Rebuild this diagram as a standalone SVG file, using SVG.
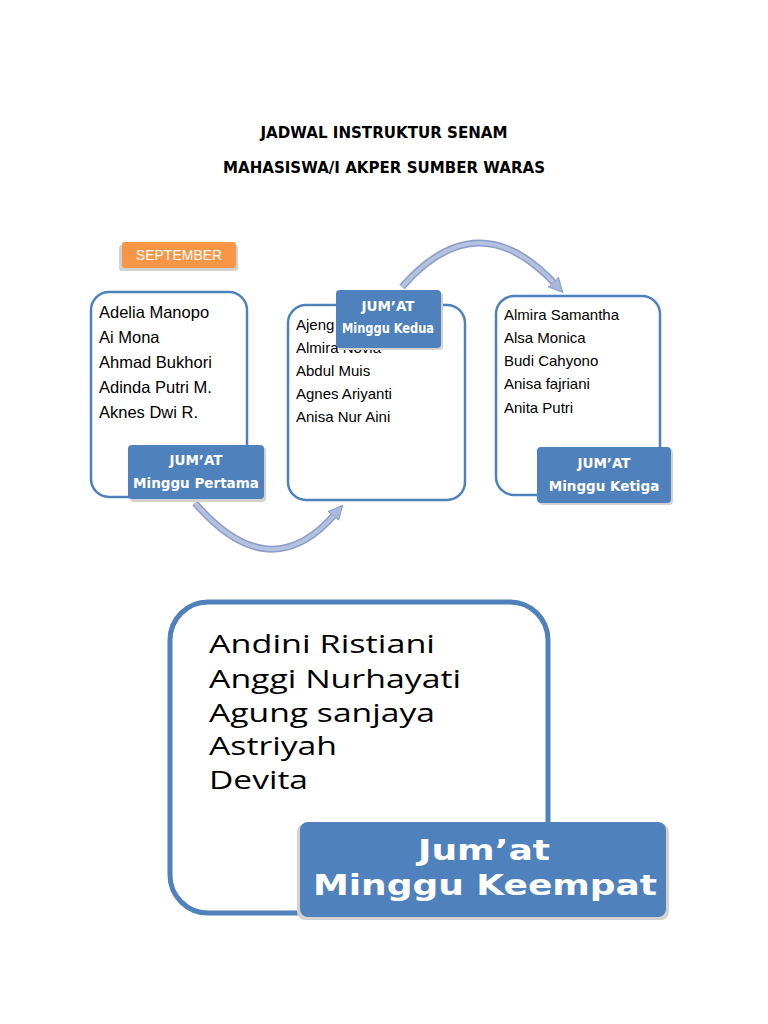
<svg xmlns="http://www.w3.org/2000/svg" width="768" height="1024" viewBox="0 0 768 1024">
<style>
.title{font-family:"DejaVu Sans","Liberation Sans",sans-serif;font-weight:bold;font-size:15px;fill:#000}
.box{fill:#fff;stroke:#4F81BD;stroke-width:2.5}
.name{font-family:"Liberation Sans",Arial,sans-serif;font-size:16.5px;fill:#000}
.name2{font-family:"Liberation Sans",Arial,sans-serif;font-size:15px;fill:#000}
.lab{fill:#4F81BD}
.shadow{fill:#d2d2d2}
.labt{font-family:"DejaVu Sans","Liberation Sans",sans-serif;font-weight:bold;font-size:13.5px;fill:#fff;text-anchor:middle}
.big{font-family:"Open Sans","Liberation Sans",sans-serif;font-size:26px;fill:#000}
.bigl{font-family:"DejaVu Sans","Liberation Sans",sans-serif;font-weight:bold;font-size:29px;fill:#fff;text-anchor:middle}
.arc{fill:none;stroke:#8A9DC9;stroke-width:7}
.arcin{fill:none;stroke:#B5C2DF;stroke-width:4}
</style>
<defs>
<marker id="ah" markerUnits="userSpaceOnUse" markerWidth="18" markerHeight="18" refX="4" refY="9" orient="auto">
<path d="M0,2 L14,9 L0,16 Z" fill="#A9B8DA" stroke="#8A9DC9" stroke-width="1"/>
</marker>
</defs>
<rect width="768" height="1024" fill="#fff"/>
<g id="title">
<text class="title" x="384" y="138" text-anchor="middle" textLength="247" lengthAdjust="spacingAndGlyphs">JADWAL INSTRUKTUR SENAM</text>
<text class="title" x="384" y="173" text-anchor="middle" textLength="322" lengthAdjust="spacingAndGlyphs">MAHASISWA/I AKPER SUMBER WARAS</text>
</g>
<g id="connectors">
<path class="arc" d="M195,503 Q270,590 336,513"/>
<path class="arcin" d="M195,503 Q270,590 336,513" marker-end="url(#ah)"/>
<path class="arc" d="M402,287 Q478,200 556,285"/>
<path class="arcin" d="M402,287 Q478,200 556,285" marker-end="url(#ah)"/>
</g>
<g id="september">
<rect x="119" y="245" width="119" height="26" rx="3" class="shadow"/>
<rect x="122" y="242" width="114" height="26" rx="3" fill="#F79646"/>
<text x="179" y="260" text-anchor="middle" font-family="'Liberation Sans',Arial,sans-serif" font-size="14" fill="#fff">SEPTEMBER</text>
</g>
<g id="box1">
<rect x="91" y="292" width="156" height="205" rx="18" class="box"/>
<text class="name" x="99" y="318">Adelia Manopo</text>
<text class="name" x="99" y="343">Ai Mona</text>
<text class="name" x="99" y="368">Ahmad Bukhori</text>
<text class="name" x="99" y="393">Adinda Putri M.</text>
<text class="name" x="99" y="418">Aknes Dwi R.</text>
</g>
<g id="label1">
<rect x="130" y="447" width="136" height="55" rx="4" class="shadow"/>
<rect x="128" y="445" width="136" height="54" rx="4" class="lab"/>
<text class="labt" x="196" y="465">JUM’AT</text>
<text class="labt" x="196" y="488">Minggu Pertama</text>
</g>
<g id="box2">
<rect x="288" y="305" width="177" height="195" rx="18" class="box"/>
<text class="name2" x="296" y="330">Ajeng</text>
<text class="name2" x="296" y="353">Almira Novia</text>
<text class="name2" x="296" y="376">Abdul Muis</text>
<text class="name2" x="296" y="399">Agnes Ariyanti</text>
<text class="name2" x="296" y="422">Anisa Nur Aini</text>
</g>
<g id="label2">
<rect x="338" y="292" width="105" height="58" rx="4" class="shadow"/>
<rect x="336" y="290" width="105" height="58" rx="4" class="lab"/>
<text class="labt" x="388" y="311">JUM’AT</text>
<text class="labt" x="388" y="333" textLength="92" lengthAdjust="spacingAndGlyphs">Minggu Kedua</text>
</g>
<g id="box3">
<rect x="496" y="296" width="164" height="199" rx="18" class="box"/>
<text class="name2" x="504" y="320">Almira Samantha</text>
<text class="name2" x="504" y="343">Alsa Monica</text>
<text class="name2" x="504" y="366">Budi Cahyono</text>
<text class="name2" x="504" y="389">Anisa fajriani</text>
<text class="name2" x="504" y="413">Anita Putri</text>
</g>
<g id="label3">
<rect x="539" y="449" width="134" height="56" rx="4" class="shadow"/>
<rect x="537" y="447" width="134" height="56" rx="4" class="lab"/>
<text class="labt" x="604" y="468">JUM’AT</text>
<text class="labt" x="604" y="491">Minggu Ketiga</text>
</g>
<g id="box4">
<rect x="170" y="602" width="378" height="311" rx="38" fill="#fff" stroke="#4F81BD" stroke-width="5"/>
<text class="big" x="209" y="653" textLength="226" lengthAdjust="spacingAndGlyphs">Andini Ristiani</text>
<text class="big" x="209" y="688" textLength="252" lengthAdjust="spacingAndGlyphs">Anggi Nurhayati</text>
<text class="big" x="209" y="722" textLength="226" lengthAdjust="spacingAndGlyphs">Agung sanjaya</text>
<text class="big" x="209" y="755" textLength="128" lengthAdjust="spacingAndGlyphs">Astriyah</text>
<text class="big" x="209" y="789" textLength="99" lengthAdjust="spacingAndGlyphs">Devita</text>
</g>
<g id="label4">
<rect x="297" y="824" width="372" height="96" rx="8" class="shadow"/>
<rect x="300" y="822" width="366" height="95" rx="8" class="lab"/>
<text class="bigl" x="484" y="860" textLength="132" lengthAdjust="spacingAndGlyphs">Jum’at</text>
<text class="bigl" x="485" y="895" textLength="344" lengthAdjust="spacingAndGlyphs">Minggu Keempat</text>
</g>
</svg>
